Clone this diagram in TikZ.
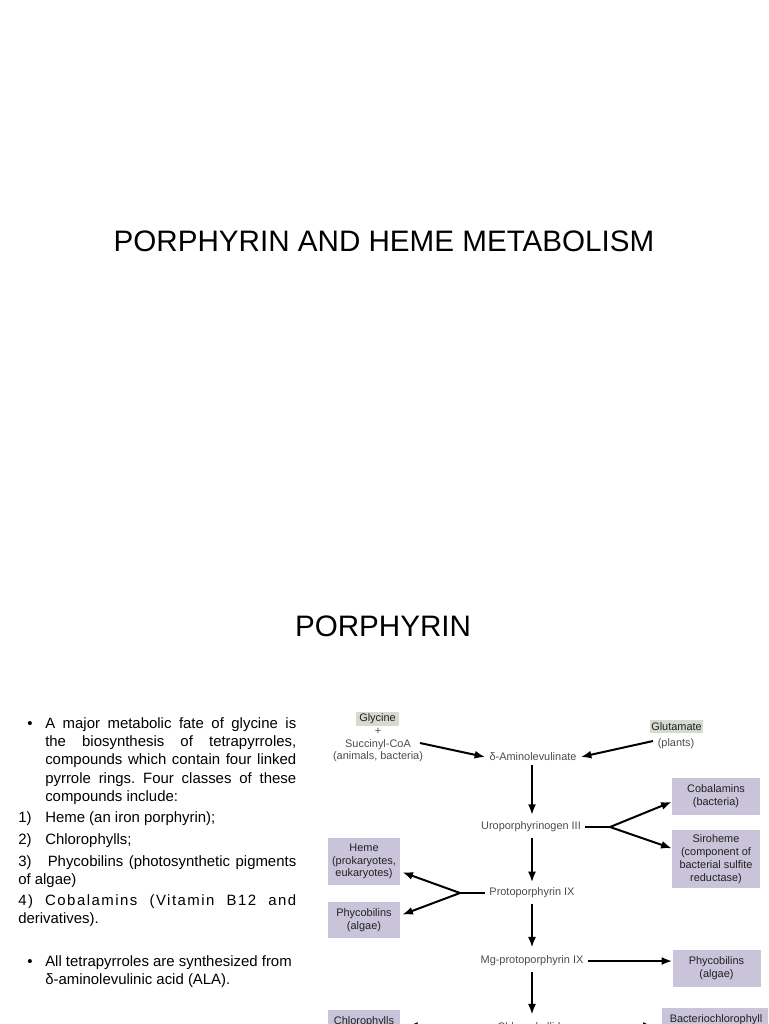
\documentclass[tikz,border=0pt]{standalone}
\usepackage{fontspec}
\setmainfont{Liberation Sans}
\usetikzlibrary{arrows.meta}
\definecolor{boxlav}{HTML}{C9C4D9}
\definecolor{boxgrn}{HTML}{D6DBD1}
\definecolor{lbl}{HTML}{4C4C4C}
\definecolor{boxtxt}{HTML}{202020}
\frenchspacing
\begin{document}
\begin{tikzpicture}[x=0.75pt,y=-0.75pt,
  titletext/.style={font=\fontsize{22.2}{26}\selectfont, anchor=base, inner sep=0pt},
  body/.style={font=\fontsize{11.2}{13.7}\selectfont, anchor=base west, inner sep=0pt},
  lab/.style={font=\fontsize{8.2}{9.2}\selectfont, text=lbl, align=center, inner sep=3pt},
  pbox/.style={fill=boxlav, font=\fontsize{8.2}{9.6}\selectfont, text=boxtxt, align=center, inner sep=1pt},
  gbox/.style={fill=boxgrn, font=\fontsize{8.2}{9.6}\selectfont, text=boxtxt, align=center, inner sep=1pt},
  arr/.style={-{Latex[length=8pt,width=6pt]}, line width=1.5pt, black},
  plainline/.style={line width=1.5pt, black}]
\useasboundingbox (0,0) rectangle (768,1024);
\clip (0,0) rectangle (768,1024);
\fill[white] (0,0) rectangle (768,1024);

% titles
\node[titletext] (title) at (384,251.5) {PORPHYRIN AND HEME METABOLISM};
\node[titletext] (sub) at (383,636.5) {PORPHYRIN};

% body text
\newcommand{\jline}[2]{\makebox[#1][s]{#2}}
\node[body] (b1) at (27,728) {\textbullet};
\node[body] (l1) at (45,728) {\jline{188.25pt}{A major metabolic fate of glycine is}};
\node[body] (l2) at (45,746) {\jline{188.25pt}{the biosynthesis of tetrapyrroles,}};
\node[body] (l3) at (45,764.5) {\jline{188.25pt}{compounds which contain four linked}};
\node[body] (l4) at (45,783) {\jline{188.25pt}{pyrrole rings. Four classes of these}};
\node[body] (l5) at (45,801) {compounds include:};
\node[body] (n1) at (18,822) {1)};
\node[body] (l6) at (45,822) {Heme (an iron porphyrin);};
\node[body] (n2) at (18,844) {2)};
\node[body] (l7) at (45,844) {Chlorophylls;};
\node[body] (l8) at (18,866) {\jline{208.5pt}{3)\hspace{8pt} Phycobilins (photosynthetic pigments}};
\node[body] (l9) at (18,884) {of algae)};
\node[body] (l10) at (18,905) {\jline{208.5pt}{\addfontfeature{LetterSpace=10}4) Cobalamins (Vitamin B12 and}};
\node[body] (l11) at (18,923) {derivatives).};
\node[body] (b2) at (27,966) {\textbullet};
\node[body] (l12) at (45,966) {All tetrapyrroles are synthesized from};
\node[body] (l13) at (45,984) {δ-aminolevulinic acid (ALA).};

% diagram nodes
\node[gbox, minimum width=32.25pt, minimum height=10.5pt] (gly) at (377.5,719) {Glycine};
\node[lab, inner sep=0pt] (plus) at (378,731.5) {+};
\node[lab, inner sep=1pt] (succ) at (378,751) {Succinyl-CoA\\(animals, bacteria)};
\node[gbox, minimum width=38.25pt, minimum height=10pt] (glu) at (676.5,726.5) {Glutamate};
\node[lab, inner sep=1pt] (plants) at (676,744) {(plants)};
\node[lab] (ala) at (533,757) {δ-Aminolevulinate};
\node[lab] (uro) at (531,827) {Uroporphyrinogen III};
\node[lab] (proto) at (532,893) {Protoporphyrin IX};
\node[lab] (mg) at (532,961) {Mg-protoporphyrin IX};
\node[lab] (chlide) at (532,1028) {Chlorophyllide};

\node[pbox, minimum width=66pt, minimum height=27.75pt] (cob) at (716,796.5) {Cobalamins\\(bacteria)};
\node[pbox, minimum width=66pt, minimum height=43.5pt] (siro) at (716,859) {Siroheme\\(component of\\bacterial sulfite\\reductase)};
\node[pbox, minimum width=54pt, minimum height=35.25pt] (heme) at (364,861.5) {Heme\\(prokaryotes,\\eukaryotes)};
\node[pbox, minimum width=54pt, minimum height=27pt] (phl) at (364,920) {Phycobilins\\(algae)};
\node[pbox, minimum width=66pt, minimum height=27.75pt] (phr) at (716.5,968.5) {Phycobilins\\(algae)};
\node[pbox, minimum width=54pt, minimum height=27pt] (chl) at (364,1028) {Chlorophylls\\\phantom{(}};
\node[pbox, minimum width=81pt, minimum height=27.75pt] (bchl) at (716,1026.5) {Bacteriochlorophyll\\\phantom{(}};

% connectors
\coordinate (s1) at (420,743);
\coordinate (s2) at (653,741);
\coordinate (vx) at (532,0);
\draw[arr] (s1) -- (ala.west);
\draw[arr] (s2) -- (ala.east);
\draw[arr, shorten >=2pt] (vx |- ala.south) -- (vx |- uro.north);

\coordinate (f1) at (610,827);
\draw[plainline] (uro.east) -- (f1);
\draw[arr] (f1) -- ([yshift=-4pt]cob.west);
\draw[arr] (f1) -- ([yshift=8pt]siro.west);
\draw[arr, shorten <=1pt, shorten >=1pt] (vx |- uro.south) -- (vx |- proto.north);

\coordinate (f2) at (460,893);
\draw[plainline] (proto.west) -- (f2);
\draw[arr] (f2) -- ([yshift=-8pt,xshift=1.5pt]heme.east);
\draw[arr] (f2) -- ([yshift=4pt,xshift=1.5pt]phl.east);
\draw[arr, shorten <=1pt, shorten >=3pt] (vx |- proto.south) -- (vx |- mg.north);

\draw[arr] (mg.east) -- (mg.east -| phr.west);
\draw[arr, shorten <=1pt, shorten >=3pt] (vx |- mg.south) -- (vx |- chlide.north);

\draw[arr, shorten >=5pt] ([yshift=1.5pt]chlide.west) -- ([yshift=1.5pt]chlide.west -| chl.east);
\draw[arr, shorten >=6pt] ([yshift=1.5pt]chlide.east) -- ([yshift=1.5pt]chlide.east -| bchl.west);
\end{tikzpicture}
\end{document}
